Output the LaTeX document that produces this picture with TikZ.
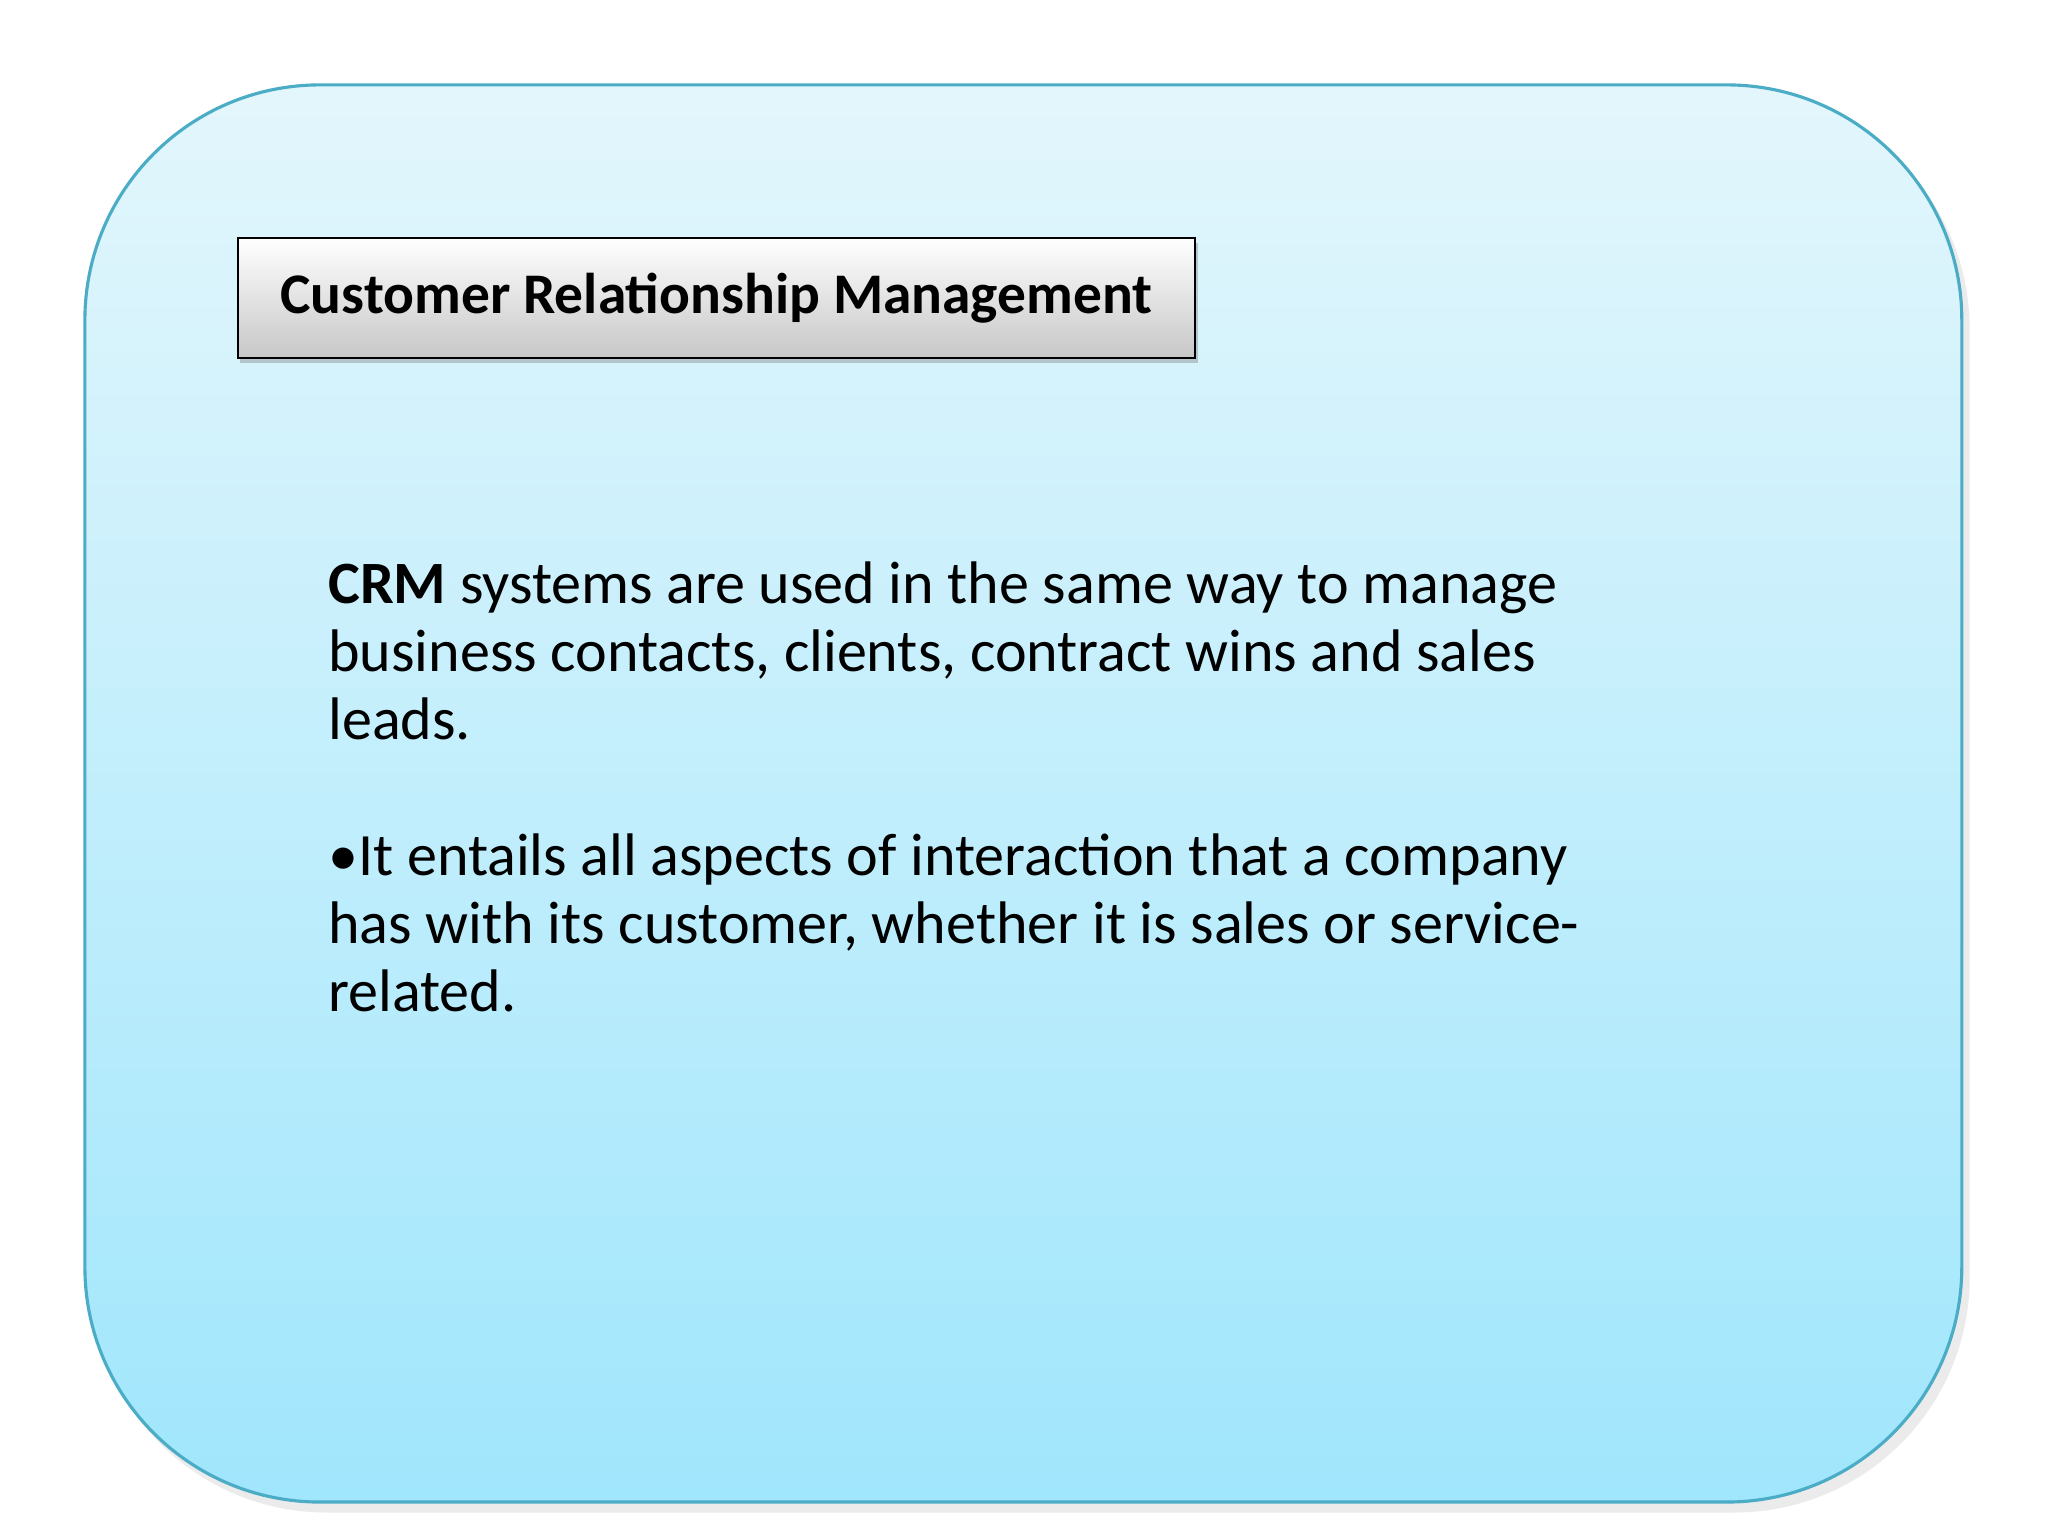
\documentclass[tikz,border=0pt]{standalone}
\usepackage{fontspec}
\setmainfont{Carlito}
\usetikzlibrary{shadows}
\definecolor{bgtop}{HTML}{E3F6FC}
\definecolor{bgbot}{HTML}{A0E6FC}
\definecolor{bord}{HTML}{4BACC6}
\tikzset{
  panel/.style={draw=bord, line width=1.2pt, rounded corners=90pt, top color=bgtop, bottom color=bgbot},
  titlebox/.style={draw=black, line width=0.8pt, top color=white, bottom color=black!22, drop shadow={shadow xshift=1pt, shadow yshift=-2pt, opacity=0.4}},
  body/.style={align=left, anchor=north west, inner sep=0pt, font=\fontsize{23}{26}\selectfont}
}
\begin{document}
\begin{tikzpicture}[x=0.5pt,y=-0.5pt]
\useasboundingbox (0,0) rectangle (1568,1176);
\fill[white] (0,0) rectangle (1568,1176);
\fill[black!8, rounded corners=90pt] (70,72) rectangle (1508,1158);
\path[panel] (65,65) rectangle (1502,1150);
\node[titlebox, minimum width=366.5pt, minimum height=46pt, inner sep=0pt] (title) at (548.5,228)
  {\fontsize{22}{26}\selectfont\bfseries Customer Relationship Management};
\node[body] (txt) at (251,430) {\textbf{CRM} systems are used in the same way to manage\\
business contacts, clients, contract wins and sales\\
leads.\\[26pt]
•It entails all aspects of interaction that a company\\
has with its customer, whether it is sales or service-\\
related.};
\end{tikzpicture}
\end{document}
